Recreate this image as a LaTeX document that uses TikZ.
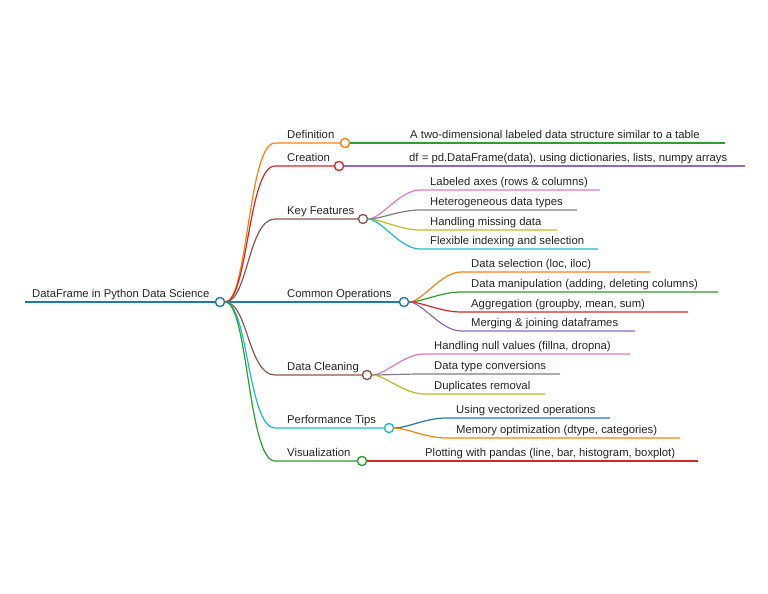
\documentclass[tikz,border=0pt]{standalone}
\usepackage{fontspec}
\setmainfont{Liberation Sans}
\definecolor{cOr}{HTML}{FF7F0E}\definecolor{cGr}{HTML}{2CA02C}\definecolor{cRe}{HTML}{D62728}
\definecolor{cPu}{HTML}{9467BD}\definecolor{cBr}{HTML}{8C564B}\definecolor{cPi}{HTML}{E377C2}
\definecolor{cGy}{HTML}{7F7F7F}\definecolor{cOl}{HTML}{BCBD22}\definecolor{cCy}{HTML}{17BECF}
\definecolor{cBl}{HTML}{1F77B4}
\tikzset{dot/.style={circle,draw=#1,fill=white,line width=1.2pt,inner sep=0pt,minimum size=9pt},
lbl/.style={anchor=base west,inner sep=0pt,font=\fontsize{11.3}{13}\selectfont,text=black!85},
br/.style={line width=1.2pt,draw=#1}}
\usetikzlibrary{calc}
\newcommand\mmchild[5]{%
 \node[dot=#4] (#1) at (#3,#2) {};
 \node[lbl] (#1t) at (287,#2-5) {#5};
 \coordinate (#1s) at (275,#2);
 \draw[br=#4] (root) .. controls (248,302) and (248,#2) .. (#1s) -- (#1);}
\newcommand\mmleaf[8]{%
 \node[lbl] (#1) at (#5,#4-5) {#8};
 \coordinate (#1s) at (#5-10,#4);\coordinate (#1e) at (#6,#4);
 \draw[br=#7] (#2) .. controls ($(#2)+(18,0)$) and (#5-30,#4) .. (#1s) -- (#1e);}
\begin{document}
\begin{tikzpicture}[x=1pt,y=-1pt]
\useasboundingbox (0,0) rectangle (768,594);
\coordinate (rs) at (25,302);
\node[dot=cBl] (root) at (220,302) {};
\node[lbl] (roott) at (32,297) {DataFrame in Python Data Science};
\draw[br=cBl] (rs) -- (root);
\mmchild{def}{143}{345}{cOr}{Definition}
\mmchild{cre}{166}{339}{cRe}{Creation}
\mmchild{key}{219}{363}{cBr}{Key Features}
\mmchild{com}{302}{404}{cBl}{Common Operations}
\mmchild{cle}{375}{367}{cBr}{Data Cleaning}
\mmchild{per}{428}{389}{cCy}{Performance Tips}
\mmchild{vis}{461}{362}{cGr}{Visualization}
\mmleaf{d1}{def}{143}{143}{410}{725}{cGr}{A two-dimensional labeled data structure similar to a table}
\mmleaf{c1}{cre}{166}{166}{409}{745}{cPu}{df = pd.DataFrame(data), using dictionaries, lists, numpy arrays}
\mmleaf{k1}{key}{219}{190}{430}{600}{cPi}{Labeled axes (rows \& columns)}
\mmleaf{k2}{key}{219}{210}{430}{577}{cGy}{Heterogeneous data types}
\mmleaf{k3}{key}{219}{230}{430}{557}{cOl}{Handling missing data}
\mmleaf{k4}{key}{219}{249}{430}{598}{cCy}{Flexible indexing and selection}
\mmleaf{o1}{com}{302}{272}{471}{650}{cOr}{Data selection (loc, iloc)}
\mmleaf{o2}{com}{302}{292}{471}{718}{cGr}{Data manipulation (adding, deleting columns)}
\mmleaf{o3}{com}{302}{312}{471}{688}{cRe}{Aggregation (groupby, mean, sum)}
\mmleaf{o4}{com}{302}{331}{471}{635}{cPu}{Merging \& joining dataframes}
\mmleaf{l1}{cle}{375}{354}{434}{630}{cPi}{Handling null values (fillna, dropna)}
\mmleaf{l2}{cle}{375}{374}{434}{560}{cGy}{Data type conversions}
\mmleaf{l3}{cle}{375}{394}{434}{545}{cOl}{Duplicates removal}
\mmleaf{p1}{per}{428}{418}{456}{610}{cBl}{Using vectorized operations}
\mmleaf{p2}{per}{428}{438}{456}{680}{cOr}{Memory optimization (dtype, categories)}
\mmleaf{v1}{vis}{461}{461}{425}{698}{cRe}{Plotting with pandas (line, bar, histogram, boxplot)}
\foreach \n/\c in {root/cBl,def/cOr,cre/cRe,key/cBr,com/cBl,cle/cBr,per/cCy,vis/cGr}
  \node[dot=\c] at (\n) {};
\end{tikzpicture}
\end{document}
